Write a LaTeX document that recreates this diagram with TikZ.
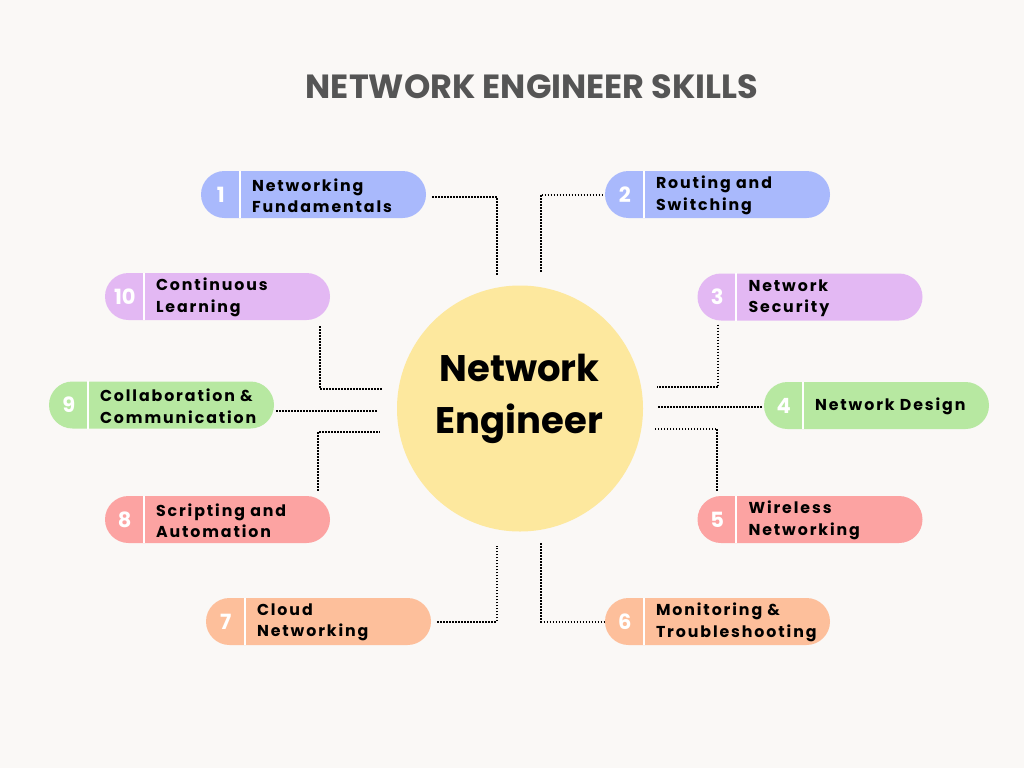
\documentclass[tikz,border=0pt]{standalone}
\usepackage{fontspec}
\setmainfont{Poppins}
\newfontfamily\skillfont{Poppins}[LetterSpace=12]
\usepackage{tikz}

\definecolor{bg}{HTML}{FAF8F6}
\definecolor{skblue}{HTML}{A9B9FC}
\definecolor{skpurple}{HTML}{E3B8F3}
\definecolor{skgreen}{HTML}{B7E8A1}
\definecolor{skred}{HTML}{FCA3A2}
\definecolor{skorange}{HTML}{FDBF9B}
\definecolor{skyellow}{HTML}{FDE89E}
\definecolor{titlegray}{HTML}{555555}

\begin{document}
\begin{tikzpicture}[x=1pt, y=-1pt,
                    pill/.style={rectangle, rounded corners=23.5pt, minimum width=225pt,
                                 minimum height=47pt, inner sep=0pt},
                    num/.style={text=white, font=\fontsize{21}{21}\selectfont\bfseries},
                    skilltext/.style={anchor=west, align=left, inner sep=0pt,
                                      font=\skillfont\bfseries\fontsize{15.8}{21.5}\selectfont},
                    link/.style={draw=black, line width=2pt, dash pattern=on 1.6pt off 1.4pt}]
      \fill[bg] (0,0) rectangle (1024,768);
      \useasboundingbox (0,0) rectangle (1024,768);

      \node[text=titlegray, font=\fontsize{33.5}{33.5}\selectfont\bfseries] (title) at (532,87)
        {NETWORK ENGINEER SKILLS};

      \node[circle, fill=skyellow, minimum size=246pt, inner sep=0pt] (hub) at (520,408.5) {};
      \node[align=center, font=\fontsize{37}{52}\selectfont\bfseries] (hubtext) at (519.5,399)
        {Network\\Engineer};

      % skill pills
      \foreach \n/\x/\y/\c/\t in {1/313.5/194.5/skblue/{Networking\\Fundamentals},
                                  2/717.5/194.5/skblue/{Routing and\\Switching},
                                  3/810/297/skpurple/{Network\\Security},
                                  4/876.5/405.5/skgreen/{Network Design},
                                  5/810/519.5/skred/{Wireless\\Networking},
                                  6/717.5/621.5/skorange/{Monitoring \&\\Troubleshooting},
                                  7/318.5/621.5/skorange/{Cloud\\Networking},
                                  8/217.5/519.5/skred/{Scripting and\\Automation},
                                  9/161.5/405/skgreen/{Collaboration \&\\Communication},
                                  10/217.5/296.5/skpurple/{Continuous\\Learning}}
      {
        \node[pill, fill=\c] (p\n) at (\x,\y) {};
        \draw[white, line width=2pt] ([xshift=39pt]p\n.north west) -- ([xshift=39pt]p\n.south west);
        \node[num] (n\n) at ([xshift=20pt]p\n.west) {\n};
        \node[skilltext] (t\n) at ([xshift=51pt,yshift=-1pt]p\n.west) {\t};
      }

      % ends near the hub
      \coordinate (c1) at (497,275);
      \coordinate (c2) at (541,272);
      \coordinate (c3) at (657,387);
      \coordinate (c4) at (658,407);
      \coordinate (c5) at (655,429);
      \coordinate (c6) at (541,543);
      \coordinate (c7) at (497,546);
      \coordinate (c8) at (380,432);
      \coordinate (c9) at (378,411);
      \coordinate (c10) at (382,389);

      \draw[link, shorten <=6pt] ([yshift=-2.5pt]p1.east) -| (c1);
      \draw[link, shorten >=1pt] (c2) |- (p2.west);
      \draw[link, shorten <=4pt] ([xshift=21pt]p3.south west) |- (c3);
      \draw[link, shorten >=1pt] (c4) -- (p4.west |- c4);
      \draw[link, shorten <=5pt] ([xshift=20pt]p5.north west) |- (c5);
      \draw[link, shorten >=1pt] (c6) |- (p6.west);
      \draw[link, shorten <=6pt] (p7.east) -| (c7);
      \draw[link, shorten <=5pt] ([xshift=-12pt]p8.north east) |- (c8);
      \draw[link, shorten <=2pt] (p9.east |- c9) -- (c9);
      \draw[link, shorten <=6pt] ([xshift=-10pt]p10.south east) |- (c10);
\end{tikzpicture}
\end{document}
